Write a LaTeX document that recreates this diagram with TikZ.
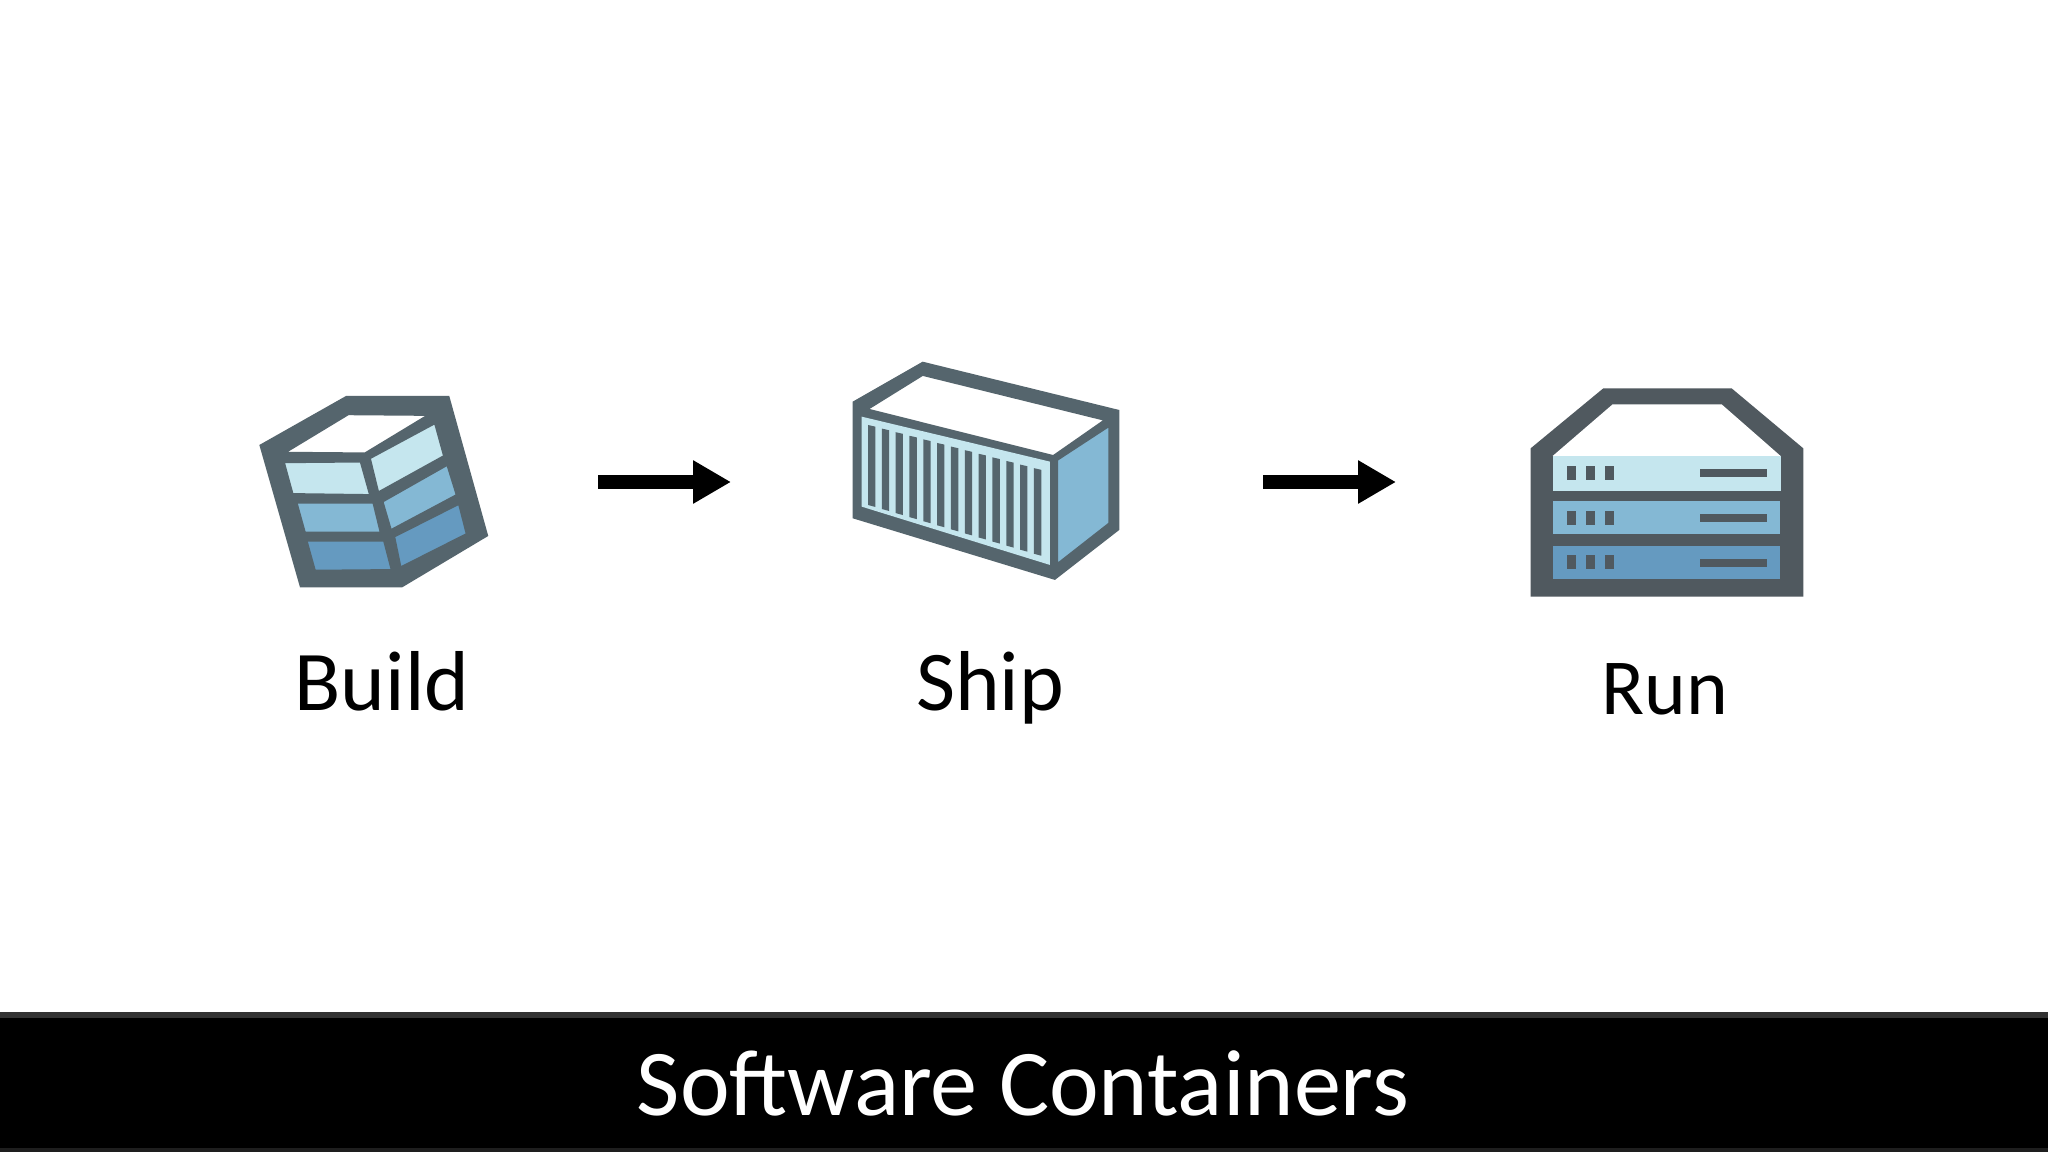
\documentclass[tikz,border=0pt]{standalone}
\usepackage{fontspec}
\setmainfont{Carlito}
\usetikzlibrary{arrows.meta}
\definecolor{frameC}{HTML}{55656D}
\definecolor{frameR}{HTML}{50595F}
\definecolor{lightC}{HTML}{C5E6EE}
\definecolor{midC}{HTML}{84B8D4}
\definecolor{deepC}{HTML}{659AC0}
\definecolor{barTop}{HTML}{333333}
\definecolor{barEnd}{HTML}{1E1E1E}
\tikzset{
  icon/.style={x=0.016667cm,y=-0.016667cm},
  panelA/.style={draw=frameC,line width=2.5pt,line join=round},
  panelB/.style={draw=frameR,line width=2pt,line join=round},
  lab/.style={anchor=base,inner sep=0pt,font=\fontsize{121pt}{121pt}\selectfont,text=black},
  runlab/.style={anchor=base,inner sep=0pt,font=\fontsize{113pt}{113pt}\selectfont,text=black},
  barlab/.style={anchor=base,inner sep=0pt,font=\fontsize{134pt}{134pt}\selectfont,text=white},
  flow/.style={line width=19pt,draw=black,-{Triangle[length=54pt,width=58pt]}}
}
\begin{document}
\begin{tikzpicture}[x=0.05cm,y=-0.05cm]
\useasboundingbox (0,0) rectangle (2048,1152);
\fill[white] (0,0) rectangle (2048,1152);
% bottom bar
\fill[barTop] (0,1012) rectangle (2048,1018);
\fill[black] (0,1018) rectangle (2048,1148);
\fill[barEnd] (0,1148) rectangle (2048,1152);
% Build icon
\begin{scope}[shift={(240,380)},icon]
\fill[frameC] (318,48)--(628,48)--(745,468)--(487,622)--(180,622)--(58,195)--cycle;
\path[panelA,fill=white] (135,218)--(325,103)--(565,105)--(375,220)--cycle;
\path[panelA,fill=lightC] (132,247)--(362,245)--(390,345)--(158,342)--cycle;
\path[panelA,fill=midC] (170,368)--(400,368)--(422,458)--(195,458)--cycle;
\path[panelA,fill=deepC] (200,482)--(432,482)--(455,570)--(225,572)--cycle;
\path[panelA,fill=lightC] (390,235)--(585,130)--(612,228)--(415,337)--cycle;
\path[panelA,fill=midC] (428,365)--(622,255)--(650,345)--(453,450)--cycle;
\path[panelA,fill=deepC] (463,470)--(657,372)--(680,462)--(482,562)--cycle;
\end{scope}
% Ship icon
\begin{scope}[shift={(840,350)},icon]
\fill[frameC] (248,35)--(838,180)--(838,540)--(645,690)--(38,505)--(38,155)--cycle;
\path[panelA,fill=white] (82,178)--(248,75)--(795,210)--(640,318)--cycle;
\fill[lightC] (65,200)--(630,335)--(630,645)--(65,470)--cycle;
\path[panelA,fill=midC] (652,330)--(808,228)--(808,520)--(652,642)--cycle;
\foreach \i in {0,...,12}{
  \pgfmathsetmacro{\xa}{84+41.5*\i}
  \pgfmathsetmacro{\xb}{\xa+22}
  \pgfmathsetmacro{\ya}{225+10.8*\i}
  \pgfmathsetmacro{\yb}{465+12.2*\i}
  \fill[frameC] (\xa,\ya)--(\xb,\ya+5)--(\xb,\yb+6)--(\xa,\yb)--cycle;
}
\end{scope}
% Run icon
\begin{scope}[shift={(1510,370)},icon]
\fill[frameR] (280,55)--(665,55)--(880,235)--(880,680)--(62,680)--(62,235)--cycle;
\fill[white] (308,103)--(635,103)--(812,258)--(128,258)--cycle;
\fill[lightC] (128,258) rectangle (812,362);
\path[panelB,fill=midC] (128,390) rectangle (812,495);
\path[panelB,fill=deepC] (128,525) rectangle (812,630);
\foreach \y in {0,134,268}{
  \foreach \x in {172,228,285}{
    \fill[frameR] (\x,288+\y) rectangle (\x+27,330+\y);
  }
  \fill[frameR] (570,298+\y) rectangle (772,322+\y);
}
\end{scope}
% labels
\node[lab] (build) at (382,710) {Build};
\node[lab] (ship) at (990,710) {Ship};
\node[runlab] (run) at (1665,714) {Run};
\node[barlab] (title) at (1023,1115) {Software Containers};
% arrows
\coordinate (buildR) at (598,482);
\coordinate (shipL) at (731,482);
\coordinate (shipR) at (1263,482);
\coordinate (runL) at (1396,482);
\draw[flow] (buildR) -- (shipL);
\draw[flow] (shipR) -- (runL);
\end{tikzpicture}
\end{document}
